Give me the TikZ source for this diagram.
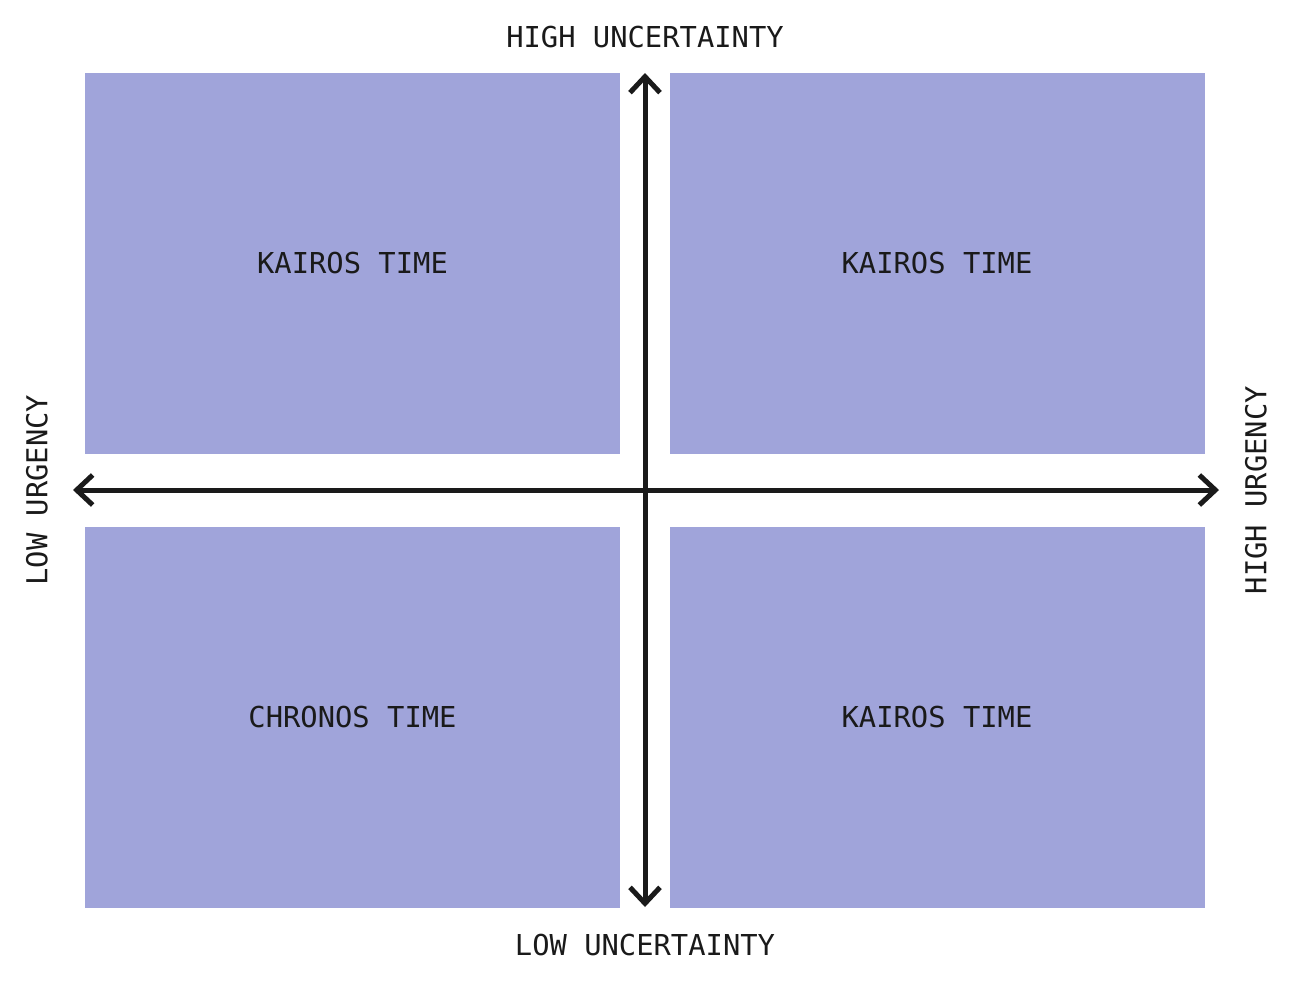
\documentclass[tikz,border=0pt]{standalone}
\usepackage{fontspec}
\setmonofont{DejaVu Sans Mono}
\usepackage{tikz}
\usetikzlibrary{arrows.meta, positioning}
\definecolor{quadfill}{HTML}{A0A4DA}
\definecolor{inkdark}{HTML}{1A1A1A}
\tikzset{
  quad/.style={fill=quadfill, draw=none, inner sep=0pt, minimum width=267.5pt, minimum height=190.5pt, text=inkdark, font=\fontsize{14.4}{17}\selectfont\ttfamily},
  axislabel/.style={inner sep=0pt, text=inkdark, font=\fontsize{14.4}{17}\selectfont\ttfamily},
  axis/.style={draw=inkdark, line width=2.5pt, {Straight Barb[length=8pt,width=15pt]}-{Straight Barb[length=8pt,width=15pt]}}
}

\begin{document}
\begin{tikzpicture}[x=0.5pt, y=-0.5pt]
            \useasboundingbox (0,0) rectangle (1292,981);
              \node [quad] (kairos-tl) at (352.5,263.5) {KAIROS TIME};
              \node [quad] (kairos-tr) at (937,263.5) {KAIROS TIME};
              \node [quad] (chronos-bl) at (352.5,717.5) {CHRONOS TIME};
              \node [quad] (kairos-br) at (937,717.5) {KAIROS TIME};
              \coordinate (top) at (645,73);
              \coordinate (bottom) at (645,907);
              \coordinate (left) at (73,490);
              \coordinate (right) at (1219,490);
              \draw [axis] (bottom) -- (top);
              \draw [axis] (left) -- (right);
              \node [axislabel] (high-unc) at (645,37) {HIGH UNCERTAINTY};
              \node [axislabel] (low-unc) at (645,945) {LOW UNCERTAINTY};
              \node [axislabel, rotate=90] (low-urg) at (37,490) {LOW URGENCY};
              \node [axislabel, rotate=90] (high-urg) at (1256,490) {HIGH URGENCY};
          \end{tikzpicture}
\end{document}
